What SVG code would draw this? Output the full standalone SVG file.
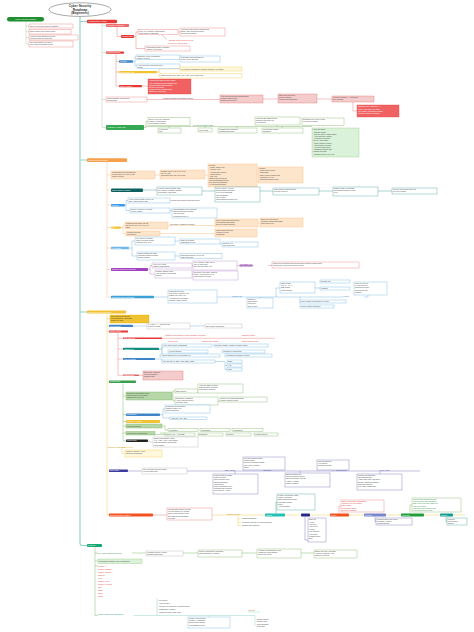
<svg xmlns="http://www.w3.org/2000/svg" width="474" height="632" viewBox="0 0 474 632">
<style>
text{font-family:"Liberation Sans",Arial,sans-serif;font-size:1.7px;fill:#444}
.w{fill:#fff;font-size:1.9px}
.ttl{font-size:3.2px;font-weight:bold;fill:#333;text-anchor:middle}
.rt{fill:#e53935}.gt{fill:#2e8b3e}.yt{fill:#b8900a}.tt{fill:#138d80}.bt{fill:#2f7fc0}.ot{fill:#e07020}
path{fill:none;stroke-width:0.4}
.spine{stroke:#8fd6c8;stroke-width:1.2}
.r{stroke:#e06666}.o{stroke:#f6b26b}.y{stroke:#f1c232}.g{stroke:#6aa84f}.b{stroke:#5aa7dd}.tl{stroke:#2a8f8a}.p{stroke:#b07cc6}.n{stroke:#5b5bb0}.k{stroke:#aaa}.gs{stroke:#9bbf9b}.sp{stroke:#7ccfc0}
rect{stroke-width:0.35}
.bR{fill:#fff;stroke:#e06666}.fR{fill:#f4cccc;stroke:#e06666}.RR{fill:#f06262;stroke:#e53935}
.fO{fill:#fde5cc;stroke:#f6b26b}.bB{fill:#fff;stroke:#5aa7dd}.bT{fill:#fff;stroke:#2a8f8a}
.bP{fill:#fff;stroke:#b07cc6}.bG{fill:#fff;stroke:#6aa84f}.fG{fill:#d9f2d9;stroke:#93c47d}.GG{fill:#b6d7a8;stroke:#6aa84f}
.bK{fill:#fff;stroke:#aaa}.bN{fill:#fff;stroke:#5b5bb0}.fY{fill:#fff8dc;stroke:#f1c232}.bY{fill:#fff;stroke:#f1c232}
</style>

<g id="connectors">
<path class="spine" d="M80,16.3 V543 Q80,545.5 82.5,545.5 H87 M80,21.5 H87 M80,160 H87 M80,312 H87"/>
<path class="gs" d="M26,21.4 V44 M26,26 H29 M26,31.7 H29 M26,37.5 H29 M26,44 H29"/>
<path class="gs" d="M102,23.2 V127.5 M102,25.5 H106 M102,52.6 H106 M102,99.5 H106 M102,127.5 H106"/>
<path class="r" d="M117,27 V36.5 H121 M134,36.5 H136 V32 H138 M178,32 H180 M136,36.5 V48.5 H145 M162,35 L167,39.5"/>
<path class="r" d="M116,53.7 V86 H119 M116,61.5 H119 M116,72 H119"/>
<path class="b" d="M133,61.5 H135 V57 H136 M135,61.5 V66 H137 M180,58 H180"/>
<path class="y" d="M157,72 H159 V69 H180 M159,72 V75.7 H160"/>
<path class="r" d="M142,86 H148"/>
<path class="r" d="M147,99.5 H220 M263,99 H278 M317,99 H332 M353,102 V111 H357"/>
<path class="g" d="M144,127.5 H146 V126.5 H312 M146,126.5 V121.5 H148 M169,126.5 V128 M205,126.5 V128 M237,126.5 V128 M282,126.5 V128 M277,126.5 V125 M323,126.5 V125.5"/>
<path class="o" d="M107,162 V297 M107,175 H111 M107,190 H111 M107,205 H111 M107,227.5 H111 M107,248 H111 M107,269.5 H111 M107,297 H111 M155,175 H160 M205,175 H208 M257,175 H258"/>
<path class="tl" d="M143,190 H157 M202,191 H215 M260,191 H273 M319,191 H333 M378,191 H392"/>
<path class="b" d="M125,205 H126 V200.5 H128 M126,205 V210.5 H130 M170,200.5 H172 M170,210.5 H172"/>
<path class="o" d="M121,227.5 H123 V225.5 H125 M123,227.5 V233.5 H126 M168,225.5 H215 M258,223 H260 M160,233.5 H215"/>
<path class="b" d="M129,248 H132 V241 H135 M132,248 V256 H137 M175,241 H180 M175,256 H180 M220,244 H222"/>
<path class="p" d="M148,269.5 H150 V265.5 H152 M150,269.5 V274 H155 M192,265.5 H193 M192,274 H193 M237,265.5 H240 M268,265.5 H272"/>
<path class="b" d="M154,297 H168 M217,297 H343 M260,297 V298 M276,297 V288 H280 M315,288 H320 M364,297 H368 V288.5 H354 M300,297 V303.5"/>
<path class="y" d="M107,313.5 V515 M107,319 H110 M107,326 H109 M107,331.5 H109 M107,382 H109 M107,447.5 H109 M107,471 H109 M107,515 H109"/>
<path class="b" d="M133,326 H147 M190,326 H205"/>
<path class="r" d="M118,332.5 V375.3 H123 M118,338.3 H123 M118,349 H123 M118,359 H123 M139,375.3 H143 M162,338.3 H275"/>
<path class="tl" d="M159,349 H162 V345.5 M162,349 V355.5 H160"/>
<path class="b" d="M155,359 H162 V361.5 M215,361.5 H225 V369.5 H227 M225,365.5 H227"/>
<path class="g" d="M123,383.5 V441 M123,396 H126 M123,414.7 H126 M123,421.5 H126 M123,426 H126 M123,433 H126 M123,441 H126 M172,396 H173 V391 H175 M173,396 V401 H175 M198,391 H198 M218,401 H220 M162,426 H165 V430 H168 M160,433 H165 V434.5 H155"/>
<path class="b" d="M160,414.7 H163 V409 H165 M163,414.7 V418 H170"/>
<path class="k" d="M148,441 H150 V442 H153"/>
<path class="y" d="M133,447.5 H122 V453.5 H125"/>
<path class="n" d="M128,471 H142 M187,471 H420 M235,471 V474 M264,471 V470 M300,471 V473 M333,471 V470 M380,471 V474"/>
<path class="r" d="M153,515 H167"/>
<path class="y" d="M212,515 H465 M238,516 V525.5 H241 M238,518.8 H241 M238,522.2 H241"/>
<path class="tl" d="M276,513.5 V502 H277"/>
<path class="n" d="M305,516.5 V540 H308"/>
<path class="r" d="M339,513.5 V506 H341"/>
<path class="n" d="M375,516.5 V521.5 H376"/>
<path class="g" d="M410,513.5 V505 H412"/>
<path class="tl" d="M446,516.5 V521.5 H447"/>
<path class="g" d="M95,547 V615.5 M95,553 H98 M95,561 H98 M95,566 H98 M95,615.5 H98 M132,553 H146 M183,553 H198 M242,553 H257 M301,553 H314"/>
<path class="sp" d="M133,615.5 H157 M157,598.5 V615.5 M157,600 H158 M157,603 H158 M157,606 H158 M157,609 H158 M157,612 H158 M157,615.5 H255 M209,615.5 V617 M255,615.5 V626 M248,612 H260"/>
</g>

<g id="title"><ellipse cx="80" cy="9.6" rx="31" ry="6.8" fill="#fff" stroke="#555" stroke-width="0.5"/><text class="ttl" x="80" y="7.3">Cyber Security</text><text class="ttl" x="80" y="10.7">Roadmap</text><text class="ttl" x="80" y="14.1">(Beginners)</text></g>

<g id="n-info"><rect x="7" y="17" width="37" height="4.4" rx="2.2" fill="#1f8f2f" stroke="none"/><text class="w" x="25.5" y="19.9" text-anchor="middle">How to use this roadmap</text></g>
<g id="n-info1"><rect class="bR" x="29" y="24" width="44" height="4"/><text x="30" y="26.6">Use free resources wherever possible</text></g>
<g id="n-info2"><rect class="bR" x="29" y="29.5" width="42" height="4.5"/><text x="30" y="32.3">Build a home lab to practice safely</text></g>
<g id="n-info3"><rect class="bR" x="29" y="35" width="49" height="5"/><text x="30" y="37.2">Learn by doing hands-on projects</text><text x="30" y="39.2">and write notes for each topic</text></g>
<g id="n-info4"><rect class="bR" x="29" y="41" width="44" height="6"/><text x="30" y="43.2">Only test systems you own or</text><text x="30" y="45.4">have written permission to test</text></g>

<g id="n-s1"><rect x="87" y="19.8" width="30" height="3.4" rx="1" fill="#e53935"/><text class="w" x="88.5" y="22.1">Fundamental IT Skills</text></g>
<g id="n-hw"><rect x="106" y="24" width="23" height="3" rx="0.8" fill="#ef6b6b"/><text class="w" x="107" y="26.1">Computer Hardware</text></g>
<g id="n-comp"><rect x="121" y="35" width="13" height="3" rx="0.8" fill="#e53935"/><text class="w" x="122" y="37.1">Components</text></g>
<g id="n-comp1"><rect class="bR" x="138" y="29.5" width="40" height="5"/><text x="139" y="31.7">CPU, RAM, storage, motherboard,</text><text x="139" y="33.7">power supply, peripherals</text></g>
<g id="n-comp2"><rect class="bR" x="180" y="28" width="45" height="8"/><text x="181" y="30.2">How data flows between components</text><text x="181" y="32.3">BIOS / UEFI and boot process</text><text x="181" y="34.4">Drivers and firmware</text></g>
<g id="n-comp3"><text class="rt" x="168" y="41.2">Assemble or take apart an old PC</text><text class="rt" x="168" y="43.5">to see every part up close</text></g>
<g id="n-comp4"><rect class="bR" x="145" y="46" width="45" height="5"/><text x="146" y="48.2">Virtualization basics: VirtualBox,</text><text x="146" y="50.2">VMware, hypervisors</text></g>

<g id="n-os"><rect x="106" y="51.5" width="18" height="2.2" rx="0.7" fill="#e53935"/><text class="w" x="106.8" y="53.2" style="font-size:1.6px">Operating Systems</text></g>
<g id="n-win"><rect x="119" y="60.3" width="14" height="2.4" rx="0.7" fill="#3d85c6"/><text class="w" x="120" y="62.1" style="font-size:1.6px">Windows</text></g>
<g id="n-win1"><rect class="bB" x="136" y="55" width="44" height="4.5"/><text x="137" y="57.1">Installation, users, permissions,</text><text x="137" y="59">registry, services</text></g>
<g id="n-win2"><rect class="bB" x="180" y="56" width="40" height="6"/><text x="181" y="58.1">PowerShell and command line</text><text x="181" y="60.2">Event Viewer and logs</text></g>
<g id="n-win3"><rect class="bB" x="137" y="64" width="43" height="4.5"/><text x="138" y="66.1">Active Directory and Group Policy</text><text x="138" y="68">basics</text></g>
<g id="n-lin"><rect x="119" y="71" width="38" height="2.2" rx="0.7" fill="#f1c232"/><text class="w" x="120" y="72.7" style="font-size:1.6px">Linux (Ubuntu / Kali)</text></g>
<g id="n-lin1"><rect class="fY" x="180" y="67" width="62" height="4"/><text x="181" y="69.6">File system, permissions, package managers, processes</text></g>
<g id="n-lin2"><rect class="bY" x="160" y="73.5" width="82" height="4.5"/><text x="161" y="76.3">Bash scripting, cron, SSH, grep / awk / sed, system logs</text></g>
<g id="n-mob"><rect x="119" y="85" width="23" height="2.3" rx="0.7" fill="#e53935"/><text class="w" x="120" y="86.7" style="font-size:1.6px">Mobile &amp; macOS</text></g>
<g id="n-mob1"><rect class="RR" x="148" y="79" width="43" height="15"/><text class="w" x="149" y="81.3">Android and iOS security model</text><text class="w" x="149" y="83.5">App permissions and sandboxing</text><text class="w" x="149" y="85.7">macOS basics and Terminal</text><text class="w" x="149" y="87.9">Device encryption</text><text class="w" x="149" y="90.1">Mobile device management</text><text class="w" x="149" y="92.3">Jailbreak / root risks</text></g>

<g id="n-net0"><rect class="bR" x="106" y="97" width="41" height="5"/><text x="107" y="99.2">Troubleshooting and technical</text><text x="107" y="101.2">support skills</text></g>
<g id="n-net0t"><text x="163" y="99">Common hardware and software issues</text></g>
<g id="n-net1"><rect class="fR" x="220" y="95" width="43" height="8"/><text x="221" y="97.2">Help desk tickets and documentation</text><text x="221" y="99.3">Remote support tools</text><text x="221" y="101.4">Backup and recovery</text></g>
<g id="n-net2"><rect class="fR" x="278" y="94" width="39" height="9"/><text x="279" y="96.2">Office tools and email</text><text x="279" y="98.3">security settings</text><text x="279" y="100.4">Printers and peripherals</text></g>
<g id="n-net3"><rect class="fR" x="332" y="96" width="42" height="6"/><text x="333" y="98.2">Know the CompTIA A+ objectives</text><text x="333" y="100.3">as a checklist</text></g>
<g id="n-net4"><rect class="RR" x="357" y="105" width="42" height="12"/><text class="w" x="358" y="107.3">Optional: take CompTIA A+</text><text class="w" x="358" y="109.5">Core 1 and Core 2 exams</text><text class="w" x="358" y="111.7">Free study: Professor Messer</text><text class="w" x="358" y="113.9">practice tests on YouTube</text></g>

<g id="n-labs"><rect x="106" y="125" width="38" height="5" rx="1" fill="#34a853"/><text class="w" x="107.5" y="128.2">Practice &amp; Home Lab</text></g>
<g id="n-labs1"><rect class="bG" x="148" y="117.5" width="42" height="8"/><text x="149" y="119.7">Set up VMs: Kali, Windows,</text><text x="149" y="121.8">Ubuntu, Metasploitable</text><text x="149" y="123.9">on an isolated network</text></g>
<g id="n-labs1t"><text class="gt" x="193" y="126.1">TryHackMe beginner paths</text></g>
<g id="n-labs2"><rect class="bG" x="158" y="128" width="23" height="5"/><text x="159" y="130.2">Pre Security</text><text x="159" y="132.2">path</text></g>
<g id="n-labs3"><rect class="bG" x="198" y="128" width="14" height="4"/><text x="199" y="130.6">Linux rooms</text></g>
<g id="n-labs4"><rect class="bG" x="218" y="128" width="39" height="5"/><text x="219" y="130.2">Windows and networking</text><text x="219" y="132.2">fundamentals rooms</text></g>
<g id="n-labs5"><rect class="bG" x="262" y="128" width="41" height="5"/><text x="263" y="130.2">OverTheWire Bandit</text><text x="263" y="132.2">wargames</text></g>
<g id="n-labs6"><rect class="bG" x="255" y="117" width="45" height="8"/><text x="256" y="119.2">Hack The Box Starting Point</text><text x="256" y="121.3">machines and write-ups</text><text x="256" y="123.4">for beginners</text></g>
<g id="n-labs7"><rect class="bG" x="302" y="118" width="42" height="7.5"/><text x="303" y="120.2">Document every lab in a blog</text><text x="303" y="122.3">or GitHub repository</text></g>
<g id="n-labs8"><rect class="fG" x="312" y="128" width="47" height="29"/><text x="313" y="130.4">Home lab ideas:</text><text x="313" y="132.6">- pfSense firewall</text><text x="313" y="134.8">- Security Onion / Wazuh SIEM</text><text x="313" y="137">- Active Directory domain</text><text x="313" y="139.2">- Vulnerable web apps</text><text x="313" y="141.4">  (DVWA, Juice Shop)</text><text x="313" y="143.6">- Packet capture practice</text><text x="313" y="145.8">- Log analysis exercises</text><text x="313" y="148">- Honeypot deployment</text><text x="313" y="150.2">- Password cracking with</text><text x="313" y="152.4">  Hashcat and John</text><text x="313" y="154.6">- Snapshot before every test</text></g>

<g id="n-s2"><rect x="87" y="158.3" width="40" height="3.6" rx="1" fill="#f6a04d"/><text class="w" x="88.5" y="160.7">Networking Knowledge</text></g>
<g id="n-s2a"><rect class="fO" x="111" y="171" width="44" height="8"/><text x="112" y="173.2">Understand how computers talk</text><text x="112" y="175.3">to each other on LANs, WANs</text><text x="112" y="177.4">and the internet</text></g>
<g id="n-s2b"><rect class="fO" x="160" y="170" width="45" height="9"/><text x="161" y="172.2">Network types: LAN, WAN, MAN,</text><text x="161" y="174.3">WLAN, VPN</text><text x="161" y="176.4">Topologies: star, bus, ring, mesh</text></g>
<g id="n-s2c"><rect class="fO" x="208" y="164" width="49" height="23"/><text x="209" y="166.2">Devices:</text><text x="209" y="168.3">- Router, switch, hub</text><text x="209" y="170.4">- Firewall, proxy</text><text x="209" y="172.5">- Access point, modem</text><text x="209" y="174.6">- Load balancer</text><text x="209" y="176.7">- IDS / IPS</text><text x="209" y="178.8">Cabling and connectors</text><text x="209" y="180.9">Wireless standards 802.11</text><text x="209" y="183">NAT and port forwarding</text><text x="209" y="185.1">VLANs and subnetting</text></g>
<g id="n-s2d"><rect class="fO" x="258" y="167" width="45" height="16"/><text x="259" y="169.2">Practice:</text><text x="259" y="171.3">- Cisco Packet Tracer</text><text x="259" y="173.4">- GNS3 labs</text><text x="259" y="175.5">- Build a home network map</text><text x="259" y="177.6">- Configure a VLAN</text><text x="259" y="179.7">- Subnetting practice sites</text></g>

<g id="n-osi"><rect x="111" y="188.5" width="32" height="3.4" rx="1" fill="#0b5f5c"/><text class="w" x="112" y="190.8">OSI &amp; TCP/IP Models</text></g>
<g id="n-osi1"><rect class="bT" x="157" y="187" width="45" height="8"/><text x="158" y="189.2">7 layers of OSI: physical, data</text><text x="158" y="191.3">link, network, transport, session,</text><text x="158" y="193.4">presentation, application</text></g>
<g id="n-osi2"><rect class="bT" x="215" y="187" width="45" height="15"/><text x="216" y="189.2">TCP/IP model: 4 layers</text><text x="216" y="191.3">Encapsulation and PDUs</text><text x="216" y="193.4">MAC vs IP addresses</text><text x="216" y="195.5">TCP handshake</text><text x="216" y="197.6">TCP vs UDP</text><text x="216" y="199.7">Which attacks hit which layer</text></g>
<g id="n-osi3"><rect class="bT" x="273" y="188" width="46" height="7"/><text x="274" y="190.2">Map common protocols to the</text><text x="274" y="192.3">layer they work on</text></g>
<g id="n-osi4"><rect class="bT" x="333" y="187" width="45" height="9"/><text x="334" y="189.2">Capture traffic in Wireshark</text><text x="334" y="191.3">and inspect headers at each</text><text x="334" y="193.4">layer</text></g>
<g id="n-osi5"><rect class="bT" x="392" y="188" width="45" height="6"/><text x="393" y="190.2">Follow a TCP stream and read</text><text x="393" y="192.3">an HTTP request</text></g>

<g id="n-proto"><rect x="111" y="204" width="14" height="2.5" rx="0.7" fill="#3d9be9"/><text class="w" x="111.8" y="205.8" style="font-size:1.6px">Protocols</text></g>
<g id="n-proto1"><rect class="bB" x="128" y="198" width="42" height="5"/><text x="129" y="200.2">HTTP/HTTPS, DNS, DHCP, FTP,</text><text x="129" y="202.2">SSH, SMTP, SNMP, RDP</text></g>
<g id="n-proto1t"><text x="172" y="201">What each protocol does and its port</text></g>
<g id="n-proto2"><rect class="bB" x="130" y="208" width="40" height="5"/><text x="131" y="210.2">Secure vs insecure versions</text><text x="131" y="212.2">(Telnet vs SSH)</text></g>
<g id="n-proto3"><rect class="bB" x="172" y="208" width="45" height="10"/><text x="173" y="210.2">TLS handshake and certificates</text><text x="173" y="212.3">DNS records and resolution</text><text x="173" y="214.4">ARP and ICMP</text><text x="173" y="216.5">Kerberos and LDAP</text></g>

<g id="n-ports"><rect x="111" y="226.5" width="10" height="2.2" rx="0.7" fill="#f1c232"/><text class="w" x="111.6" y="228.1" style="font-size:1.5px">Ports</text></g>
<g id="n-ports1"><rect class="fO" x="125" y="222" width="43" height="7"/><text x="126" y="224.2">Common ports: 20/21, 22, 23,</text><text x="126" y="226.3">25, 53, 80, 110, 143, 443, 445,</text><text x="126" y="228.4">3389</text></g>
<g id="n-ports1t"><text x="170" y="225">Well-known, registered, dynamic</text></g>
<g id="n-ports2"><rect class="fO" x="215" y="219" width="43" height="8"/><text x="216" y="221.2">Open, closed and filtered ports</text><text x="216" y="223.3">Port scanning with Nmap</text><text x="216" y="225.4">Service version detection</text></g>
<g id="n-ports3"><rect class="fO" x="260" y="218" width="43" height="9"/><text x="261" y="220.2">Scan your own lab only</text><text x="261" y="222.3">Compare results with netstat</text><text x="261" y="224.4">and firewall rules</text></g>
<g id="n-ports4"><rect class="fO" x="126" y="231" width="34" height="5"/><text x="127" y="233.2">Firewall rules and</text><text x="127" y="235.2">port security</text></g>
<g id="n-ports5"><rect class="fO" x="215" y="229" width="42" height="8"/><text x="216" y="231.2">Close unused services</text><text x="216" y="233.3">Principle of least</text><text x="216" y="235.4">functionality</text></g>

<g id="n-ip"><rect x="111" y="246.8" width="18" height="2.4" rx="0.7" fill="#6fb7e6"/><text class="w" x="111.8" y="248.5" style="font-size:1.5px">IP Addressing</text></g>
<g id="n-ip1"><rect class="bB" x="135" y="237" width="40" height="8"/><text x="136" y="239.2">IPv4 and IPv6 formats</text><text x="136" y="241.3">Public vs private ranges</text><text x="136" y="243.4">Loopback and APIPA</text></g>
<g id="n-ip2"><rect class="bB" x="137" y="252" width="38" height="8"/><text x="138" y="254.2">Subnet masks and CIDR</text><text x="138" y="256.3">Calculate hosts per subnet</text><text x="138" y="258.4">Default gateway</text></g>
<g id="n-ip3"><rect class="bB" x="180" y="239" width="40" height="5"/><text x="181" y="241.2">Static vs dynamic</text><text x="181" y="243.2">addressing (DHCP)</text></g>
<g id="n-ip4"><rect class="bB" x="222" y="242" width="36" height="5"/><text x="223" y="244.2">ipconfig / ip a</text><text x="223" y="246.2">ping, traceroute</text></g>
<g id="n-ip5"><rect class="bB" x="180" y="253.5" width="42" height="5"/><text x="181" y="255.7">Subnetting practice: 10 per day</text><text x="181" y="257.7">until it feels easy</text></g>

<g id="n-svc"><rect x="111" y="268" width="37" height="3" rx="0.8" fill="#a142c0"/><text class="w" x="112" y="270.1">Network Services &amp; Security</text></g>
<g id="n-svc1"><rect class="bP" x="152" y="263" width="40" height="5"/><text x="153" y="265.2">VPN, proxy, DMZ,</text><text x="153" y="267.2">network segmentation</text></g>
<g id="n-svc2"><rect class="bP" x="193" y="261" width="44" height="9"/><text x="194" y="263.2">Wi-Fi security: WEP, WPA2,</text><text x="194" y="265.3">WPA3, WPS risks</text><text x="194" y="267.4">Evil twin and rogue APs</text></g>
<g id="n-svc3"><rect class="bP" x="155" y="270" width="37" height="8"/><text x="156" y="272.2">Network attacks: MITM,</text><text x="156" y="274.3">ARP spoofing, DoS, DDoS,</text><text x="156" y="276.4">sniffing</text></g>
<g id="n-svc4"><rect class="bP" x="193" y="271" width="45" height="9"/><text x="194" y="273.2">Defences: encryption, IDS/IPS,</text><text x="194" y="275.3">802.1X, port security, NAC</text><text x="194" y="277.4">monitoring and alerting</text></g>
<g id="n-svc5"><text class="p" x="240" y="266" style="fill:#9b59b6">Zero trust basics</text></g>
<g id="n-svc6"><rect class="bR" x="272" y="262" width="87" height="6"/><text x="273" y="264.3">Read one real breach report and list which network controls failed</text><text x="273" y="266.4">and how they could have been prevented</text></g>

<g id="n-tools"><rect x="111" y="295.8" width="43" height="2.5" rx="0.7" fill="#3aa0d8"/><text class="w" x="112" y="297.6" style="font-size:1.6px">Networking Tools &amp; Commands</text></g>
<g id="n-tools1"><rect class="bB" x="168" y="290" width="49" height="13"/><text x="169" y="292.2">Command line tools:</text><text x="169" y="294.3">ping, tracert, nslookup, dig,</text><text x="169" y="296.4">netstat, arp, route, curl</text><text x="169" y="298.5">Analysis tools: Wireshark,</text><text x="169" y="300.6">tcpdump, Nmap, Netcat</text></g>
<g id="n-tools2t"><text class="bt" x="232" y="296.6">Learn by use</text></g>
<g id="n-tools2"><rect class="bB" x="247" y="298" width="26" height="10"/><text x="248" y="300.2">Capture a</text><text x="248" y="302.3">DNS lookup</text><text x="248" y="304.4">and read it</text><text x="248" y="306.5">step by step</text></g>
<g id="n-tools3"><rect class="bB" x="280" y="282" width="35" height="11"/><text x="281" y="284.2">Nmap scans:</text><text x="281" y="286.3">-sS, -sV, -O, -p-</text><text x="281" y="288.4">NSE scripts</text><text x="281" y="290.5">output formats</text></g>
<g id="n-tools3b"><rect class="bB" x="320" y="280" width="30" height="3"/><text x="321" y="282.1">Zenmap GUI</text><rect class="bB" x="320" y="287" width="30" height="3"/><text x="321" y="289.1">Masscan</text></g>
<g id="n-tools4t"><text class="bt" x="343" y="296.6">Practice</text></g>
<g id="n-tools4"><rect class="bB" x="354" y="282" width="33" height="13"/><text x="355" y="284.2">Map every device</text><text x="355" y="286.3">in your home lab</text><text x="355" y="288.4">and list open ports,</text><text x="355" y="290.5">services and OS</text><text x="355" y="292.6">versions</text></g>
<g id="n-tools5"><rect class="bB" x="300" y="300" width="46" height="3"/><text x="301" y="302.1">Write a simple port scanner in Python</text><rect class="bB" x="300" y="305" width="34" height="3"/><text x="301" y="307.1">Packet crafting with Scapy</text></g>

<g id="n-s3"><rect x="87" y="310.5" width="39" height="3" rx="0.8" fill="#f1c232"/><text class="w" x="88" y="312.6">Security Skills &amp; Knowledge</text></g>
<g id="n-s3a"><rect x="110" y="315" width="39" height="8" fill="#f1c232" stroke="#e0b000" stroke-width="0.35"/><text x="111" y="317.2" style="fill:#333">Core ideas every security</text><text x="111" y="319.3" style="fill:#333">role depends on, learn them</text><text x="111" y="321.4" style="fill:#333">before any tools</text></g>
<g id="n-cia"><rect x="109" y="324.7" width="24" height="2.4" rx="0.7" fill="#3d85c6"/><text class="w" x="110" y="326.5" style="font-size:1.6px">Core Concepts</text></g>
<g id="n-cia1"><rect class="bK" x="147" y="323" width="43" height="6"/><text x="148" y="325.2">CIA triad, AAA, least privilege,</text><text x="148" y="327.3">defence in depth</text></g>
<g id="n-cia2"><rect class="bK" x="205" y="324" width="37" height="4"/><text x="206" y="326.6">Risk, threat, vulnerability</text></g>

<g id="n-atk"><rect x="109" y="330.5" width="19" height="2" rx="0.6" fill="#e53935"/><text class="w" x="109.8" y="332" style="font-size:1.4px">Threats &amp; Attacks</text></g>
<g id="n-atk1"><rect x="123" y="337.5" width="39" height="1.6" rx="0.5" fill="#e53935"/><text class="w" x="124" y="338.8" style="font-size:1.3px">Social engineering</text></g>
<g id="n-atk1t"><text class="rt" x="165" y="336.2">Phishing, spear phishing, vishing, smishing, pretexting</text><text class="rt" x="242" y="336.2">Tailgating, baiting</text><text class="rt" x="168" y="341.8">Quid pro quo</text><text class="rt" x="202" y="341.8">Watering hole attacks</text><text class="rt" x="242" y="341.8">Spot a phishing email</text></g>
<g id="n-atk2"><rect x="123" y="347.8" width="36" height="2.2" rx="0.6" fill="#138d80"/><text class="w" x="124" y="349.5" style="font-size:1.5px">Malware types</text></g>
<g id="n-atk2a"><rect class="bB" x="162" y="344" width="50" height="3"/><text x="163" y="346.1">Virus, worm, trojan, ransomware</text><rect class="bB" x="214" y="344" width="54" height="3"/><text x="215" y="346.1">Spyware, adware, rootkit, keylogger, botnet</text><rect class="bB" x="168" y="350" width="40" height="3"/><text x="169" y="352.1">Fileless malware</text><rect class="bB" x="222" y="350" width="43" height="3"/><text x="223" y="352.1">Indicators of compromise</text><rect class="bB" x="160" y="354" width="60" height="3"/><text x="161" y="356.1">Analyse samples only in an isolated VM</text><rect class="bB" x="225" y="354" width="47" height="3"/><text x="226" y="356.1">VirusTotal and sandbox reports</text></g>
<g id="n-atk3"><rect x="123" y="358" width="32" height="2" rx="0.6" fill="#3d85c6"/><text class="w" x="124" y="359.5" style="font-size:1.4px">Web &amp; app attacks</text></g>
<g id="n-atk3a"><rect class="bB" x="162" y="360" width="53" height="3"/><text x="163" y="362.1">OWASP Top 10: SQLi, XSS, CSRF, IDOR</text><rect class="bB" x="227" y="360" width="15" height="3"/><text x="228" y="362.1">SSRF</text><rect class="bB" x="227" y="364" width="15" height="3"/><text x="228" y="366.1">XXE</text><rect class="bB" x="227" y="368" width="15" height="3"/><text x="228" y="370.1">RCE</text></g>
<g id="n-atk4"><rect x="123" y="374.5" width="16" height="1.6" rx="0.5" fill="#e06666"/><text class="w" x="124" y="375.8" style="font-size:1.3px">Password attacks</text></g>
<g id="n-atk4a"><rect class="fR" x="143" y="371" width="40" height="9"/><text x="144" y="373.2">Brute force, dictionary,</text><text x="144" y="375.3">credential stuffing,</text><text x="144" y="377.4">pass the hash</text></g>

<g id="n-sec"><rect x="109" y="380.5" width="27" height="2.5" rx="0.7" fill="#38a04a"/><text class="w" x="110" y="382.3" style="font-size:1.6px">Security Tools</text></g>
<g id="n-sec1"><rect class="GG" x="126" y="392" width="46" height="8"/><text x="127" y="394.2">Defensive and offensive tools</text><text x="127" y="396.3">used in blue and red teams,</text><text x="127" y="398.4">install them in your lab</text></g>
<g id="n-sec2"><rect class="bG" x="175" y="389" width="23" height="4"/><text x="176" y="391.6">SIEM: Splunk</text></g>
<g id="n-sec3"><rect class="bG" x="198" y="384" width="45" height="9"/><text x="199" y="386.2">Antivirus / EDR, firewalls,</text><text x="199" y="388.3">IDS/IPS (Snort, Suricata),</text><text x="199" y="390.4">vulnerability scanners</text></g>
<g id="n-sec4"><rect class="bG" x="175" y="397" width="43" height="8"/><text x="176" y="399.2">Burp Suite, Metasploit,</text><text x="176" y="401.3">Hydra, John the Ripper,</text><text x="176" y="403.4">Gobuster, Nikto</text></g>
<g id="n-sec5"><rect class="bG" x="220" y="397" width="47" height="5"/><text x="221" y="399.2">OpenVAS / Nessus Essentials,</text><text x="221" y="401.2">Wazuh, Security Onion</text></g>
<g id="n-crypto"><rect x="126" y="413.5" width="34" height="2.4" rx="0.7" fill="#3d85c6"/><text class="w" x="127" y="415.3" style="font-size:1.6px">Cryptography</text></g>
<g id="n-crypto1"><rect class="bB" x="165" y="405" width="45" height="8"/><text x="166" y="407.2">Symmetric vs asymmetric,</text><text x="166" y="409.3">hashing, salting, PKI,</text><text x="166" y="411.4">digital signatures</text></g>
<g id="n-crypto2"><rect class="bB" x="170" y="417" width="37" height="2.5"/><text x="171" y="418.8">AES, RSA, SHA-256</text></g>
<g id="n-iam"><rect x="126" y="420" width="34" height="3" rx="0.8" fill="#f1c232"/><text class="w" x="127" y="422.1">Identity &amp; Access</text></g>
<g id="n-ir"><rect class="GG" x="126" y="424" width="36" height="4"/><text x="127" y="426.6">Incident Response</text></g>
<g id="n-ir1"><rect class="bG" x="168" y="428.5" width="30" height="3"/><text x="169" y="430.6">Preparation</text><rect class="bG" x="200" y="428.5" width="30" height="3"/><text x="201" y="430.6">Identification</text><rect class="bG" x="232" y="428.5" width="31" height="3"/><text x="233" y="430.6">Containment</text><rect class="bG" x="198" y="433" width="25" height="3"/><text x="199" y="435.1">Eradication</text><rect class="bG" x="226" y="433" width="25" height="3"/><text x="227" y="435.1">Recovery</text><rect class="bG" x="254" y="433" width="24" height="3"/><text x="255" y="435.1">Lessons learned</text></g>
<g id="n-gov"><rect class="GG" x="126" y="431.5" width="29" height="3.5"/><text x="127" y="433.8">Governance &amp; Compliance</text></g>
<g id="n-gov1"><rect class="bG" x="165" y="433" width="30" height="3"/><text x="166" y="435.1">GDPR, HIPAA, PCI DSS</text></g>
<g id="n-cloud"><rect x="126" y="439.5" width="22" height="2.5" rx="0.7" fill="#222"/><text class="w" x="127" y="441.3" style="font-size:1.5px">Cloud Security</text></g>
<g id="n-cloud1"><rect class="bK" x="153" y="437" width="45" height="10"/><text x="154" y="439.2">Shared responsibility model,</text><text x="154" y="441.3">IAM, AWS / Azure / GCP basics,</text><text x="154" y="443.4">misconfigurations, S3 buckets</text><text x="154" y="445.5">cloud logging</text></g>

<g id="n-cert"><text class="yt" x="109" y="448.2">Security Certifications</text></g>
<g id="n-cert1"><rect class="fY" x="125" y="450" width="37" height="7"/><text x="126" y="452.2">CompTIA Security+ is the</text><text x="126" y="454.3">usual first certification</text></g>

<g id="n-career"><rect x="109" y="469.5" width="19" height="2.5" rx="0.7" fill="#3c3ca0"/><text class="w" x="109.8" y="471.3" style="font-size:1.5px">Career Paths</text></g>
<g id="n-career1"><rect class="bK" x="142" y="468" width="45" height="6"/><text x="143" y="470.2">Pick a direction after the basics,</text><text x="143" y="472.3">you can switch later</text></g>
<g id="n-career2"><text class="bt" x="225" y="470.6" style="fill:#3c3ca0">SOC Analyst</text><text class="bt" x="264" y="470.6" style="fill:#3c3ca0">Pentester</text><text class="bt" x="336" y="470.6" style="fill:#3c3ca0">Cloud Security</text><text class="bt" x="380" y="470.6" style="fill:#3c3ca0">GRC Analyst</text></g>
<g id="n-career3"><rect class="bN" x="213" y="474" width="45" height="20"/><text x="214" y="476.2">Monitor alerts in a SIEM</text><text x="214" y="478.3">Triage incidents</text><text x="214" y="480.4">Write detection rules</text><text x="214" y="482.5">Threat intelligence</text><text x="214" y="484.6">Log analysis</text><text x="214" y="486.7">Skills: networking, Linux,</text><text x="214" y="488.8">Windows logs, scripting</text><text x="214" y="490.9">Cert: Security+, CySA+</text></g>
<g id="n-career4"><rect class="bN" x="243" y="457" width="42" height="13"/><text x="244" y="459.2">Web and network testing</text><text x="244" y="461.3">Report writing</text><text x="244" y="463.4">Exploit development basics</text><text x="244" y="465.5">Cert: eJPT, PenTest+,</text><text x="244" y="467.6">OSCP</text></g>
<g id="n-career5"><rect class="bN" x="285" y="473" width="45" height="14"/><text x="286" y="475.2">Digital forensics and</text><text x="286" y="477.3">incident response (DFIR)</text><text x="286" y="479.4">Disk and memory analysis</text><text x="286" y="481.5">Autopsy, Volatility</text><text x="286" y="483.6">Chain of custody</text></g>
<g id="n-career6"><rect class="bN" x="317" y="460" width="32" height="10"/><text x="318" y="462.2">Cloud architecture</text><text x="318" y="464.3">IAM policies</text><text x="318" y="466.4">Container security</text></g>
<g id="n-career7"><rect class="bN" x="357" y="474" width="45" height="16"/><text x="358" y="476.2">Policies and standards</text><text x="358" y="478.3">Risk assessments</text><text x="358" y="480.4">Audits, NIST CSF, ISO 27001</text><text x="358" y="482.5">Security awareness training</text><text x="358" y="484.6">Business continuity</text><text x="358" y="486.7">Cert: CISM, CISSP later</text></g>

<g id="n-proj"><rect x="109" y="513.5" width="44" height="3" rx="0.8" fill="#f4511e"/><text class="w" x="110" y="515.6">Build Projects &amp; Portfolio</text></g>
<g id="n-proj1"><rect class="bR" x="167" y="508" width="45" height="12"/><text x="168" y="510.2">Projects show employers what</text><text x="168" y="512.3">you can actually do. Publish</text><text x="168" y="514.4">them on GitHub with a clear</text><text x="168" y="516.5">README and screenshots</text><text x="168" y="518.6">of results</text></g>
<g id="n-proj2"><text class="yt" x="227" y="514.5">Beginner projects</text><text x="242" y="519.2">Password manager</text><text x="242" y="522.6">Keylogger detector in a lab environment</text><text x="242" y="526">Network traffic analyser</text></g>
<g id="n-proj3"><rect x="265" y="513.5" width="20" height="3" rx="0.8" fill="#1fc1b0"/><text class="w" x="266" y="515.6" style="font-size:1.5px">Scripting</text><rect class="bT" x="277" y="494" width="38" height="16"/><text x="278" y="496.2">Python: port scanner, hash</text><text x="278" y="498.3">cracker, log parser</text><text x="278" y="500.4">Bash: automation scripts</text><text x="278" y="502.5">PowerShell basics</text><text x="278" y="504.6">Regex</text><text x="278" y="506.7">APIs and JSON</text></g>
<g id="n-proj4"><rect x="301" y="513.5" width="9" height="3" rx="0.8" fill="#28288c"/><rect class="bN" x="308" y="518" width="18" height="24"/><text x="309" y="520.2">SIEM lab</text><text x="309" y="522.6">AD lab</text><text x="309" y="525">Honeypot</text><text x="309" y="527.4">VPN server</text><text x="309" y="529.8">Firewall</text><text x="309" y="532.2">CTF writeups</text><text x="309" y="534.6">Vuln report</text><text x="309" y="537">Phishing demo</text><text x="309" y="539.4">Blog</text></g>
<g id="n-proj5"><rect x="330" y="513.5" width="19" height="3" rx="0.8" fill="#f4511e"/><text class="w" x="331" y="515.6" style="font-size:1.5px">Reports</text><rect class="bR" x="341" y="500" width="43" height="12"/><text class="rt" x="342" y="502.2">Write a vulnerability assessment</text><text class="rt" x="342" y="504.3">report for your lab network</text><text class="rt" x="342" y="506.4">Risk ratings</text><text class="rt" x="342" y="508.5">Remediation steps</text><text class="rt" x="342" y="510.6">Executive summary</text></g>
<g id="n-proj6"><rect x="364" y="513.5" width="22" height="3" rx="0.8" fill="#7986cb"/><text class="w" x="365" y="515.6" style="font-size:1.5px">Soft Skills</text><rect class="bN" x="376" y="518" width="36" height="7"/><text x="377" y="520.2">Communication and writing</text><text x="377" y="522.3">Teamwork, curiosity</text><text x="377" y="524.4">Problem solving</text></g>
<g id="n-proj7"><rect x="401" y="513.5" width="23" height="3" rx="0.8" fill="#1e9e3e"/><text class="w" x="402" y="515.6" style="font-size:1.5px">Job Search</text><rect class="bG" x="412" y="498" width="49" height="14"/><text class="gt" x="413" y="500.2">Resume with projects and labs</text><text class="gt" x="413" y="502.3">LinkedIn profile and networking</text><text class="gt" x="413" y="504.4">Entry roles: help desk, SOC tier 1</text><text class="gt" x="413" y="506.5">Interview practice</text><text class="gt" x="413" y="508.6">Internships and volunteer work</text><text class="gt" x="413" y="510.7">Keep learning every week</text></g>
<g id="n-proj8"><rect x="440" y="513.5" width="13" height="3" rx="0.8" fill="#139b8f"/><text class="w" x="440.6" y="515.6" style="font-size:1.3px">Community</text><rect class="bT" x="447" y="518" width="20" height="7"/><text x="448" y="520.2">Meetups</text><text x="448" y="522.3">Conferences</text><text x="448" y="524.4">Discord</text></g>

<g id="n-s4"><rect x="87" y="544" width="15" height="3" rx="0.8" fill="#16a974"/><text class="w" x="87.8" y="546.1" style="font-size:1.5px">Resources</text></g>
<g id="n-res1"><text class="gt" x="98" y="553.6">Free online courses and videos</text></g>
<g id="n-res1a"><rect class="bK" x="146" y="551" width="37" height="5"/><text x="147" y="553.2">Professor Messer, Cybrary,</text><text x="147" y="555.2">Coursera audit mode</text></g>
<g id="n-res1b"><rect class="bG" x="198" y="550" width="44" height="7"/><text x="199" y="552.2">Google Cybersecurity Certificate</text><text x="199" y="554.3">Cisco Networking Academy</text></g>
<g id="n-res1c"><rect class="bG" x="257" y="549" width="44" height="9"/><text x="258" y="551.2">YouTube: NetworkChuck, John</text><text x="258" y="553.3">Hammond, David Bombal,</text><text x="258" y="555.4">The Cyber Mentor</text></g>
<g id="n-res1d"><rect class="bG" x="314" y="550" width="43" height="8"/><text x="315" y="552.2">Books: The Web Application</text><text x="315" y="554.3">Hacker's Handbook, Linux</text><text x="315" y="556.4">Basics for Hackers</text></g>
<g id="n-res2"><rect class="fG" x="98" y="559" width="44" height="4.5"/><text x="99" y="561.8">Certification roadmap (entry to advanced)</text></g>
<g id="n-res3"><text class="rt" x="98" y="567">CompTIA A+</text><text class="rt" x="98" y="570">CompTIA Network+</text><text class="rt" x="98" y="573">CompTIA Security+</text><text class="rt" x="98" y="576">ISC2 CC</text><text class="rt" x="98" y="579">eJPT</text><text class="rt" x="98" y="582">CompTIA CySA+</text><text class="rt" x="98" y="585">CompTIA PenTest+</text><text class="rt" x="98" y="588">CEH</text><text class="rt" x="98" y="591">GSEC</text><text class="rt" x="98" y="594">OSCP</text><text class="rt" x="98" y="597">CISSP</text></g>
<g id="n-res4"><text class="tt" x="98" y="615">Practice platforms &amp; communities</text></g>
<g id="n-res4a"><text x="159" y="600.6">TryHackMe</text><text x="159" y="603.6">Hack The Box</text><text x="159" y="606.6">PicoCTF, OverTheWire, CyberDefenders</text><text x="159" y="609.6">PortSwigger Academy</text><text x="159" y="612.6">LetsDefend, Blue Team Labs</text></g>
<g id="n-res4b"><rect class="bB" x="188" y="617" width="42" height="11"/><text x="189" y="619.2">Reddit: r/cybersecurity,</text><text x="189" y="621.3">r/netsec, r/AskNetsec</text><text x="189" y="623.4">Discord study groups</text><text x="189" y="625.5">Local BSides events</text></g>
<g id="n-res4c"><text class="ot" x="248" y="611.4">Podcasts</text></g>
<g id="n-res4d"><text x="257" y="619.5">Darknet Diaries</text><text x="257" y="622">Security Now</text><text x="257" y="624.5">Risky Business</text><text x="257" y="627">CyberWire</text></g>
</svg>
